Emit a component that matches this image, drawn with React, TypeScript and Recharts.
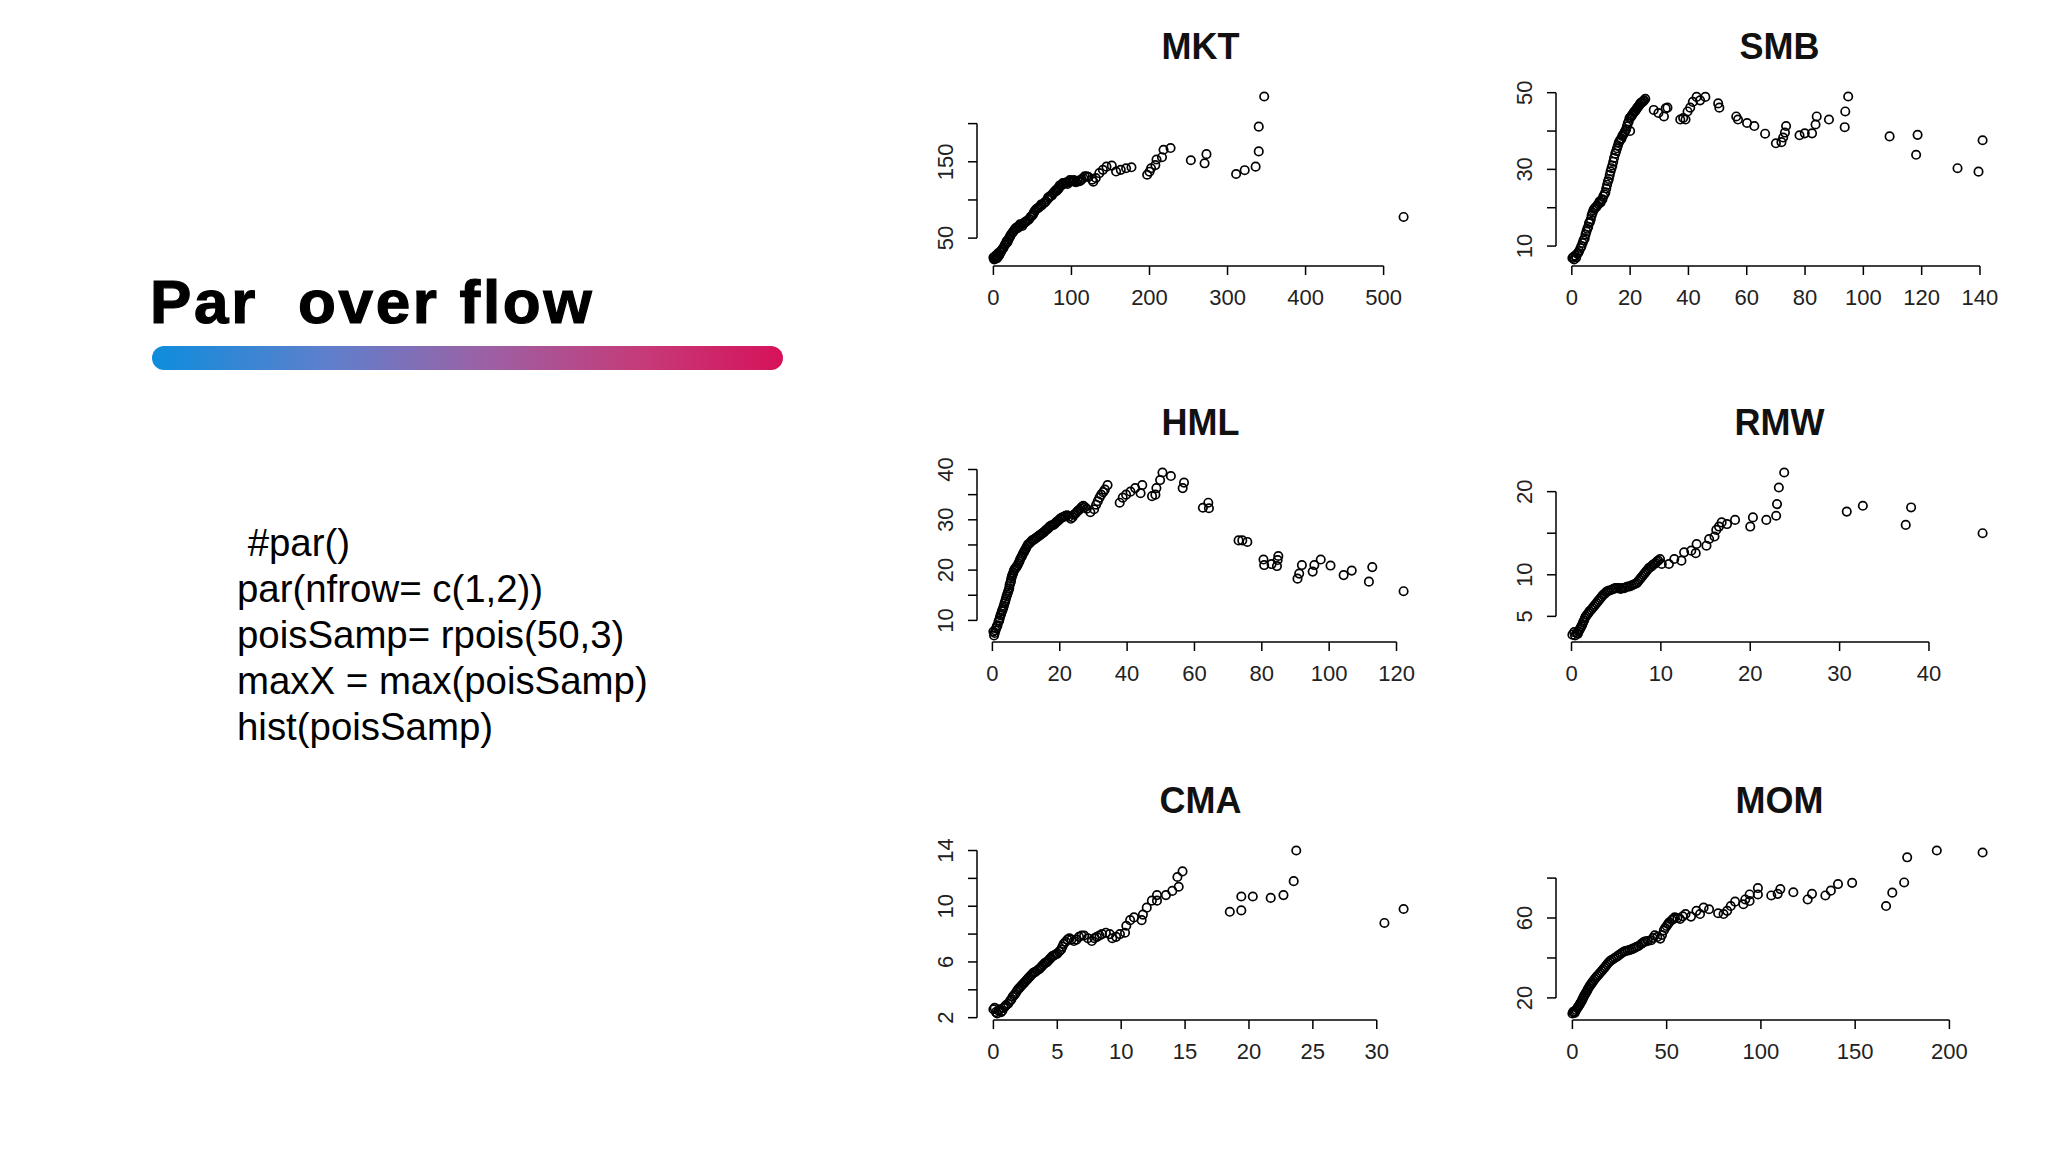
import React from "react";
import { ScatterChart, Scatter, XAxis, YAxis, ReferenceLine } from "recharts";

// values
const mktPoints = [
  [0, 24.5], [1, 22], [1.5, 25], [2, 23], [3, 27], [3.2, 23.2], [4, 25], [5, 24], [5.5, 26.6], [6, 30], [7, 27],
  [7.8, 28.7], [8.5, 32], [9, 31], [10.1, 33], [11, 35], [12.3, 36.4], [13, 38], [14.6, 40.6], [15, 42], [16.9, 43.6],
  [17, 46], [18, 45], [19.2, 47.9], [20, 50], [21.5, 52.1], [22, 54], [23.8, 56.4], [25, 58], [26.1, 59.4], [27, 61],
  [28.3, 62.8], [30, 64], [31, 63], [32.9, 65.7], [34, 68], [35.2, 67], [37, 66], [38, 69], [39.8, 70.4], [41, 71],
  [42, 72], [44.3, 73.4], [46, 75], [47.5, 77.7], [49, 79], [50, 80], [51.2, 81.9], [52, 84], [53.5, 86.2], [55, 88],
  [56.7, 89.1], [58, 90], [60.3, 91.7], [61, 94], [62, 93], [64.9, 96], [66, 97], [67, 98], [69.5, 101], [70, 103],
  [72, 104], [73.1, 105.3], [75, 106], [76.3, 108.7], [78, 110], [79, 112], [80.9, 111.7], [82, 115], [83, 114],
  [84.1, 116], [85, 119], [86, 118], [87.8, 120.2], [89, 122], [90, 121], [92.3, 122.3], [94, 123], [95, 121],
  [96.9, 123.6], [98, 126], [99, 125], [101.5, 124.5], [103, 126], [104, 124], [106, 123.2], [108, 125],
  [110.6, 124.5], [112, 126], [113, 127], [115.2, 128.7], [117, 131], [119.7, 130.9], [122, 130], [126.6, 126.6],
  [128, 124], [131.2, 128.7], [135.7, 135.1], [140.3, 139.4], [144.9, 143.6], [151.7, 144.9], [157.2, 137.2],
  [163.2, 139.4], [170, 141.5], [176.9, 142.8], [197, 133], [200, 137], [202, 141.5], [207.5, 145.7], [209, 153],
  [216, 156], [218, 165.7], [227, 168], [253, 152], [270.6, 148], [273, 160], [311, 134], [322, 139], [336, 143.6],
  [340, 163.6], [340, 196], [347, 235.5], [525.6, 77.7],
];
const mktXTicks = [0, 100, 200, 300, 400, 500];
const mktYTicks = [50, 100, 150, 200];
const mktYLabels = [50, 150];

const smbPoints = [
  [0.2, 6.9], [0.6, 7.2], [0.8, 6.5], [1.2, 7.5], [1.5, 7], [1.8, 8], [2.2, 8.2], [2.5, 8.7], [3, 9.5], [3.3, 10],
  [3.7, 10.8], [4, 11.5], [4.4, 12], [4.7, 13], [5, 13.8], [5.3, 14.5], [5.6, 15], [5.9, 16], [6.2, 16.3], [6.5, 17],
  [6.8, 18], [7.1, 18.7], [7.4, 19.3], [7.7, 19.7], [8, 20], [8.4, 20.2], [8.7, 20.6], [9.2, 21], [9.5, 21.6],
  [9.9, 21.4], [10.2, 22], [10.5, 22.2], [10.8, 23], [11.2, 23.5], [11.5, 24], [11.8, 25], [12.1, 26], [12.4, 26.9],
  [12.7, 27.5], [13, 28.5], [13.3, 29.5], [13.6, 30.3], [13.9, 31], [14.2, 32], [14.5, 33], [14.9, 34.1],
  [15.2, 34.8], [15.5, 35.5], [15.8, 36.2], [16.1, 37], [16.4, 37.4], [16.7, 37.8], [17, 38], [17.3, 38.7],
  [17.6, 39], [18, 39.5], [18.3, 40], [18.6, 40.4], [18.9, 41.2], [19.2, 42], [19.5, 42.5], [19.8, 43.4], [20, 40],
  [20.2, 43.6], [20.5, 44], [20.8, 44.3], [21.1, 44.7], [21.4, 45], [21.7, 45.2], [22, 45.5], [22.3, 45.9],
  [22.6, 46.2], [22.9, 46.5], [23.2, 46.8], [23.5, 47.2], [23.8, 47.4], [24.2, 47.5], [24.5, 47.8], [24.8, 48],
  [25.2, 48.4], [28.1, 45.5], [29.7, 44.7], [31.6, 43.8], [32.2, 45.9], [32.8, 46.1], [37.2, 43], [38.2, 43.4],
  [39, 43], [39.7, 45.1], [40.6, 46.1], [41.5, 47.6], [42.8, 48.9], [44, 48], [45.8, 48.9], [50.2, 47.2],
  [50.6, 46.1], [56.4, 43.8], [57, 43], [60.1, 42.1], [62.6, 41.3], [66.3, 39.3], [70, 36.8], [71.9, 37.1],
  [72.5, 38.3], [73.1, 39.6], [73.5, 41.3], [78.1, 38.9], [79.9, 39.4], [82.4, 39.4], [83.6, 41.7], [84, 43.8],
  [88.2, 43], [93.6, 41], [93.8, 45.1], [94.8, 49], [109, 38.6], [118.6, 39], [118.1, 33.8], [132.3, 30.3],
  [139.5, 29.4], [140.9, 37.6],
];
const smbXTicks = [0, 20, 40, 60, 80, 100, 120, 140];
const smbYTicks = [10, 20, 30, 40, 50];
const smbYLabels = [10, 30, 50];

const hmlPoints = [
  [0.3, 7.8], [0.5, 7], [0.7, 7.5], [0.9, 8], [1.1, 8.4], [1.3, 8.8], [1.5, 9], [1.8, 9.7], [2, 10], [2.2, 10.5],
  [2.4, 11], [2.6, 11.3], [2.8, 11.8], [3, 12.1], [3.2, 12.5], [3.4, 12.9], [3.6, 13.4], [3.8, 13.8], [4, 14.3],
  [4.2, 14.8], [4.4, 15.2], [4.6, 15.6], [4.8, 16], [5, 16.4], [5.1, 17], [5.3, 17.4], [5.5, 17.8], [5.6, 18.3],
  [5.8, 18.8], [6, 19.1], [6.2, 19.5], [6.4, 19.9], [6.6, 20.2], [6.9, 20.4], [7.1, 20.6], [7.4, 20.9], [7.7, 21.3],
  [8, 21.7], [8.2, 22.1], [8.5, 22.5], [8.8, 22.8], [9, 23.2], [9.3, 23.5], [9.5, 23.8], [9.8, 24.1], [10, 24.4],
  [10.3, 24.8], [10.6, 25.1], [11, 25.3], [11.4, 25.6], [11.8, 25.9], [12.2, 26], [12.6, 26.2], [13, 26.4],
  [13.4, 26.6], [13.8, 26.8], [14.2, 27], [14.6, 27.2], [15, 27.4], [15.4, 27.6], [15.8, 27.9], [16.2, 28.1],
  [16.6, 28.3], [16.9, 28.6], [17.3, 28.8], [17.7, 28.9], [18.1, 29], [18.5, 29.2], [18.9, 29.5], [19.3, 29.7],
  [19.7, 29.9], [20.1, 30.2], [20.5, 30.4], [20.9, 30.5], [21.3, 30.6], [21.7, 30.8], [22.2, 30.9], [22.7, 30.6],
  [23.3, 30.2], [23.8, 30.5], [24.2, 31], [24.6, 31.2], [25, 31.5], [25.4, 31.8], [25.8, 32], [26.2, 32.3],
  [26.6, 32.6], [27, 32.8], [27.5, 32.5], [28, 32.2], [29.1, 31.5], [30.2, 32.1], [30.8, 33], [31.3, 33.7],
  [31.8, 34.4], [32.3, 35], [32.9, 35.5], [33.4, 36], [34.2, 36.9], [37.8, 33.4], [38.7, 34.4], [39.7, 35], [41, 35.6],
  [42.4, 36.3], [44, 35.3], [44.5, 36.9], [47.4, 34.7], [48.4, 35], [48.7, 36.3], [49.8, 37.9], [50.5, 39.4],
  [53, 38.7], [56.5, 36.3], [56.9, 37.4], [62.5, 32.4], [64.1, 33.4], [64.3, 32.3], [73.1, 25.9], [74.2, 25.9],
  [75.7, 25.6], [80.5, 22.1], [80.7, 21], [82.9, 21.2], [84.7, 22], [84.9, 22.8], [84.5, 20.8], [90.6, 18.3],
  [91.1, 19.3], [91.9, 21], [95.1, 19.7], [95.6, 21], [97.5, 22.1], [100.4, 20.9], [104.3, 19], [106.7, 19.9],
  [111.8, 17.7], [112.8, 20.6], [122.1, 15.8],
];
const hmlXTicks = [0, 20, 40, 60, 80, 100, 120];
const hmlYTicks = [10, 15, 20, 25, 30, 35, 40];
const hmlYLabels = [10, 20, 30, 40];

const rmwPoints = [
  [0.1, 2.8], [0.3, 3.1], [0.4, 2.7], [0.6, 3], [0.7, 2.9], [0.8, 3.2], [0.9, 3.4], [1, 3.6], [1.1, 3.8], [1.2, 4],
  [1.3, 4.3], [1.4, 4.5], [1.5, 4.8], [1.6, 5], [1.75, 5.2], [1.9, 5.4], [2, 5.6], [2.2, 5.8], [2.35, 6], [2.5, 6.2],
  [2.65, 6.4], [2.8, 6.6], [2.95, 6.8], [3.1, 7], [3.25, 7.2], [3.4, 7.4], [3.55, 7.6], [3.7, 7.7], [3.85, 7.9],
  [4, 8], [4.2, 8.1], [4.5, 8.2], [4.7, 8.3], [4.9, 8.4], [5.1, 8.4], [5.3, 8.4], [5.5, 8.3], [5.7, 8.4], [5.9, 8.4],
  [6.1, 8.5], [6.3, 8.6], [6.5, 8.6], [6.7, 8.7], [6.9, 8.8], [7.1, 8.9], [7.3, 9], [7.45, 9.2], [7.6, 9.4],
  [7.75, 9.6], [7.9, 9.8], [8.05, 10], [8.2, 10.2], [8.35, 10.4], [8.5, 10.6], [8.65, 10.8], [8.8, 10.9], [8.95, 11],
  [9.1, 11.2], [9.25, 11.3], [9.4, 11.4], [9.55, 11.6], [9.7, 11.7], [9.9, 11.9], [10.1, 11.3], [10.9, 11.3],
  [11.5, 11.9], [12.3, 11.7], [12.6, 12.7], [13.4, 12.9], [13.9, 12.6], [14, 13.7], [15.1, 13.5], [15.4, 14.3],
  [16, 14.6], [16.2, 15.4], [16.5, 15.8], [16.8, 16.3], [17.4, 16.1], [18.3, 16.6], [20, 15.8], [20.3, 16.9],
  [21.8, 16.6], [22.9, 17.1], [23, 18.5], [23.2, 20.5], [23.8, 22.3], [30.8, 17.6], [32.6, 18.3], [37.4, 16],
  [38, 18.1], [46, 15],
];
const rmwXTicks = [0, 10, 20, 30, 40];
const rmwYTicks = [5, 10, 15, 20];
const rmwYLabels = [5, 10, 20];

const cmaPoints = [
  [0, 2.6], [0.1, 2.7], [0.2, 2.4], [0.3, 2.3], [0.4, 2.5], [0.5, 2.6], [0.6, 2.4], [0.7, 2.5], [0.8, 2.7], [0.9, 2.8],
  [1, 2.9], [1.15, 3], [1.3, 3.2], [1.4, 3.3], [1.5, 3.5], [1.6, 3.6], [1.7, 3.7], [1.8, 3.85], [1.9, 4], [2, 4.1],
  [2.1, 4.2], [2.2, 4.3], [2.3, 4.4], [2.4, 4.5], [2.5, 4.6], [2.6, 4.7], [2.7, 4.8], [2.8, 4.9], [2.9, 5], [3, 5.1],
  [3.1, 5.2], [3.2, 5.25], [3.3, 5.3], [3.45, 5.4], [3.6, 5.5], [3.7, 5.6], [3.8, 5.7], [3.9, 5.8], [4, 5.9],
  [4.1, 5.95], [4.2, 6], [4.3, 6.1], [4.4, 6.2], [4.5, 6.3], [4.6, 6.4], [4.7, 6.45], [4.8, 6.5], [4.9, 6.55], [5, 6.6],
  [5.15, 6.75], [5.3, 6.9], [5.4, 7.1], [5.5, 7.3], [5.65, 7.45], [5.8, 7.6], [5.95, 7.7], [6.1, 7.6], [6.3, 7.5],
  [6.5, 7.6], [6.7, 7.8], [6.9, 7.9], [7.1, 7.9], [7.4, 7.7], [7.7, 7.5], [7.9, 7.7], [8.1, 7.8], [8.3, 7.9], [8.5, 8],
  [8.8, 8.1], [9.1, 8], [9.3, 7.7], [9.6, 7.8], [9.9, 8], [10.3, 8.1], [10.4, 8.6], [10.7, 9], [11, 9.2], [11.6, 9],
  [11.7, 9.4], [12, 9.9], [12.4, 10.4], [12.8, 10.4], [12.8, 10.8], [13.5, 10.8], [14, 11.1], [14.5, 11.4],
  [14.4, 12.1], [14.8, 12.5], [18.5, 9.6], [19.4, 9.7], [19.4, 10.7], [20.3, 10.7], [21.7, 10.6], [22.7, 10.8],
  [23.5, 11.8], [23.7, 14], [30.6, 8.8], [32.1, 9.8],
];
const cmaXTicks = [0, 5, 10, 15, 20, 25, 30];
const cmaYTicks = [2, 4, 6, 8, 10, 12, 14];
const cmaYLabels = [2, 6, 10, 14];

const momPoints = [
  [0, 12.2], [0.4, 13], [0.8, 12.8], [1.2, 12.5], [1.5, 13.3], [2, 14], [2.5, 14.8], [3, 15.5], [3.5, 16.2], [4, 17],
  [4.5, 17.8], [5, 18.6], [5.4, 19.5], [5.9, 20.4], [6.3, 21.2], [6.8, 22], [7.3, 22.8], [7.8, 23.6], [8.2, 24.4],
  [8.7, 25.2], [9.2, 26], [9.7, 26.6], [10.1, 27.2], [10.6, 27.8], [11.1, 28.5], [11.8, 29.4], [12.5, 30.2],
  [13.2, 31], [14, 31.8], [14.7, 32.6], [15.5, 33.4], [16.2, 34.2], [16.9, 35], [17.6, 35.8], [18.3, 36.7], [19, 37.5],
  [19.8, 38.3], [20.7, 38.9], [21.7, 39.5], [22.6, 40.1], [23.6, 40.7], [24.5, 41.3], [25.5, 42], [26.4, 42.6],
  [27.4, 43.2], [28.3, 43.5], [29.3, 43.7], [30.3, 44], [31.3, 44.3], [32.2, 44.7], [33.2, 45.1], [34.1, 45.6],
  [35.1, 46], [36.5, 47], [37.2, 47.5], [38, 48.1], [39, 48.3], [40, 48.5], [41.8, 48.9], [42.7, 50], [43.7, 51.3],
  [45, 50.5], [46.6, 49.7], [47.5, 51.5], [48.5, 53.8], [49.2, 55], [50, 56], [50.7, 57], [51.4, 57.9], [52.8, 59],
  [53.5, 59.6], [54.3, 60.3], [55.7, 60], [57.1, 59.5], [58.5, 60.8], [60, 62], [62.9, 60.7], [65.8, 63.6],
  [67.7, 62], [69.6, 65.2], [72.5, 64.4], [77.3, 62.4], [80.2, 62], [82.1, 63.6], [84, 66], [86.3, 68.2],
  [90.7, 66.9], [91.7, 69.3], [94, 68.5], [94, 71.8], [98.4, 71.8], [98.4, 75], [105.5, 71.3], [108.9, 72.1],
  [110.3, 74.5], [117.2, 72.9], [124.8, 69.3], [127.1, 72.1], [134.2, 71.3], [137.1, 73.7], [140.9, 77],
  [148.4, 77.6], [166.4, 66], [169.7, 72.7], [176, 77.8], [177.6, 90.4], [193.3, 93.8], [217.6, 92.8],
];
const momXTicks = [0, 50, 100, 150, 200];
const momYTicks = [20, 40, 60, 80];
const momYLabels = [20, 60];

const codeLines = [" #par()", "par(nfrow= c(1,2))", "poisSamp= rpois(50,3)", "maxX = max(poisSamp)", "hist(poisSamp)"];

const FONT = "'Liberation Sans', Arial, Helvetica, sans-serif";
const PLOT_W = 443;
const PLOT_H = 176;
const M = { top: 10, right: 10, left: 10, bottom: 10 };
const Y_AXIS_W = 60;
const X_AXIS_H = 50;
const TICK = 9;

// R's default axis style: data range padded by 4% on each side
function rRange(vals: number[]): [number, number] {
  const lo = Math.min(...vals);
  const hi = Math.max(...vals);
  const pad = (hi - lo) * 0.04;
  return [lo - pad, hi + pad];
}

function XTick(props: any) {
  const { x, y, payload } = props;
  return (
    <text x={x} y={y} dy={30} textAnchor="middle" fontSize={22} fill="#222" fontFamily={FONT}>
      {payload.value}
    </text>
  );
}

function makeYTick(labels: number[]) {
  return function YTick(props: any) {
    const { x, y, payload } = props;
    if (!labels.includes(payload.value)) return <g />;
    const bx = x - 15;
    return (
      <text
        x={bx}
        y={y}
        textAnchor="middle"
        fontSize={22}
        fill="#222"
        fontFamily={FONT}
        transform={`rotate(-90 ${bx} ${y})`}
      >
        {payload.value}
      </text>
    );
  };
}

const Circle = (p: any) => (
  <circle cx={p.cx} cy={p.cy} r={4.2} fill="none" stroke="#000" strokeWidth={1.7} />
);

type PanelProps = {
  title: string;
  points: number[][];
  xTicks: number[];
  yTicks: number[];
  yLabels: number[];
  left: number;
  top: number;
};

function Panel({ title, points, xTicks, yTicks, yLabels, left, top }: PanelProps) {
  const data = points.map(([x, y]) => ({ x, y }));
  const xd = rRange(points.map((p) => p[0]));
  const yd = rRange(points.map((p) => p[1]));
  const YTick = makeYTick(yLabels);

  return (
    <>
      <div
        style={{
          position: "absolute",
          left: left + 2,
          top: top - 61,
          width: PLOT_W,
          textAlign: "center",
          fontFamily: FONT,
          fontWeight: "bold",
          fontSize: 36,
          lineHeight: "36px",
          color: "#111",
        }}
      >
        {title}
      </div>
      <div style={{ position: "absolute", left: left - M.left - Y_AXIS_W, top: top - M.top }}>
        <ScatterChart
          width={PLOT_W + Y_AXIS_W + M.left + M.right}
          height={PLOT_H + X_AXIS_H + M.top + M.bottom}
          margin={M}
        >
          <XAxis
            type="number"
            dataKey="x"
            domain={xd}
            allowDataOverflow
            ticks={xTicks}
            interval={0}
            height={X_AXIS_H}
            axisLine={false}
            tickLine={{ stroke: "#000", strokeWidth: 1.5 }}
            tickSize={TICK}
            tickMargin={0}
            tick={<XTick />}
          />
          <YAxis
            type="number"
            dataKey="y"
            domain={yd}
            allowDataOverflow
            ticks={yTicks}
            interval={0}
            width={Y_AXIS_W}
            axisLine={false}
            tickLine={{ stroke: "#000", strokeWidth: 1.5 }}
            tickSize={TICK}
            tickMargin={0}
            tick={<YTick />}
          />
          <ReferenceLine
            segment={[
              { x: xTicks[0], y: yd[0] },
              { x: xTicks[xTicks.length - 1], y: yd[0] },
            ]}
            stroke="#000"
            strokeWidth={1.5}
            ifOverflow="visible"
          />
          <ReferenceLine
            segment={[
              { x: xd[0], y: yTicks[0] },
              { x: xd[0], y: yTicks[yTicks.length - 1] },
            ]}
            stroke="#000"
            strokeWidth={1.5}
            ifOverflow="visible"
          />
          <Scatter data={data} shape={Circle} isAnimationActive={false} />
        </ScatterChart>
      </div>
    </>
  );
}

const colLeft = [977, 1556];
const rowTop = [90, 466, 844];

export default function App() {
  return (
    <div
      style={{
        position: "fixed",
        left: 0,
        top: 0,
        width: 2048,
        height: 1152,
        background: "#fff",
        overflow: "hidden",
      }}
    >
      <div
        style={{
          position: "absolute",
          left: 150,
          top: 271,
          fontFamily: FONT,
          fontWeight: "bold",
          fontSize: 62,
          lineHeight: "62px",
          letterSpacing: 2.7,
          whiteSpace: "pre",
          color: "#000",
          WebkitTextStroke: "1.2px #000",
        }}
      >
        {"Par  over flow"}
      </div>
      <div
        style={{
          position: "absolute",
          left: 152,
          top: 346,
          width: 631,
          height: 24,
          borderRadius: 12,
          background: "linear-gradient(90deg, #0d8ddc 0%, #5f7fcc 28%, #9a62a6 52%, #c63a78 78%, #d6125a 100%)",
        }}
      />
      <div
        style={{
          position: "absolute",
          left: 237,
          top: 520,
          fontFamily: FONT,
          fontSize: 38.4,
          lineHeight: "46px",
          whiteSpace: "pre",
          color: "#000",
        }}
      >
        {codeLines.map((l) => (
          <div key={l}>{l}</div>
        ))}
      </div>

      <Panel title="MKT" points={mktPoints} xTicks={mktXTicks} yTicks={mktYTicks} yLabels={mktYLabels} left={colLeft[0]} top={rowTop[0]} />
      <Panel title="SMB" points={smbPoints} xTicks={smbXTicks} yTicks={smbYTicks} yLabels={smbYLabels} left={colLeft[1]} top={rowTop[0]} />
      <Panel title="HML" points={hmlPoints} xTicks={hmlXTicks} yTicks={hmlYTicks} yLabels={hmlYLabels} left={colLeft[0]} top={rowTop[1]} />
      <Panel title="RMW" points={rmwPoints} xTicks={rmwXTicks} yTicks={rmwYTicks} yLabels={rmwYLabels} left={colLeft[1]} top={rowTop[1]} />
      <Panel title="CMA" points={cmaPoints} xTicks={cmaXTicks} yTicks={cmaYTicks} yLabels={cmaYLabels} left={colLeft[0]} top={rowTop[2]} />
      <Panel title="MOM" points={momPoints} xTicks={momXTicks} yTicks={momYTicks} yLabels={momYLabels} left={colLeft[1]} top={rowTop[2]} />
    </div>
  );
}
